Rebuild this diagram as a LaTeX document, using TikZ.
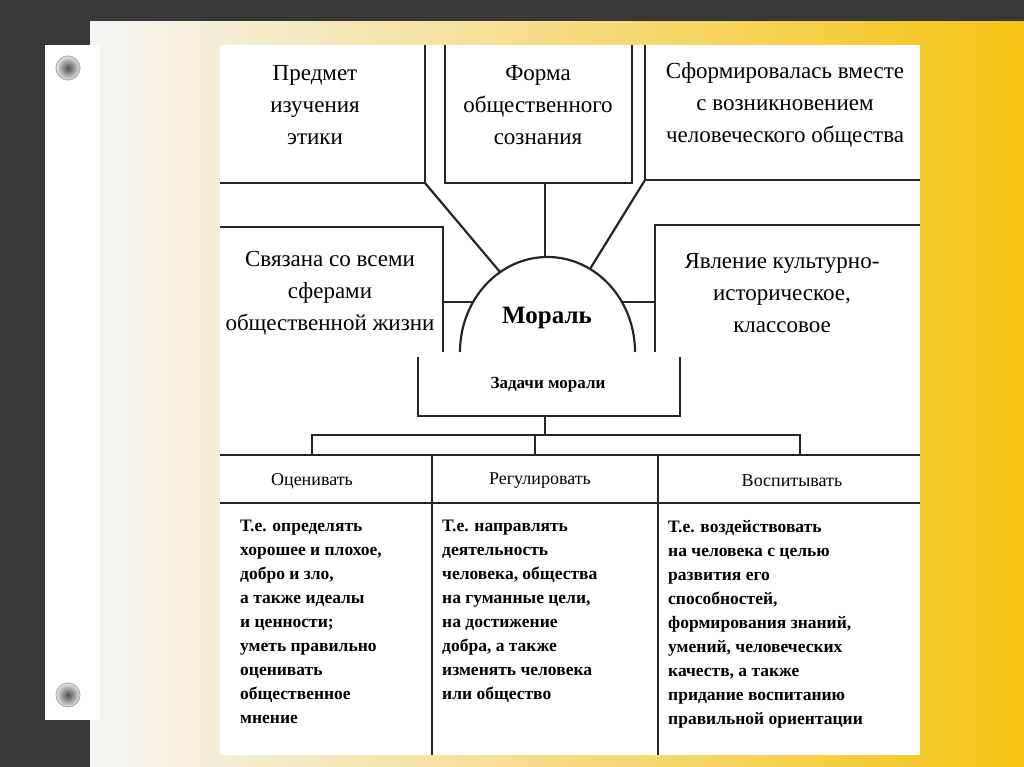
\documentclass[tikz,border=0pt]{standalone}
\usepackage{fontspec}
\setmainfont{Liberation Serif}
\usetikzlibrary{positioning}
\definecolor{gold}{RGB}{246,196,20}

\tikzstyle{line}=[line width=2.2pt, black!85]
\tikzstyle{topt}=[align=center, font=\fontsize{23}{32}\selectfont, inner sep=0pt]
\tikzstyle{head}=[align=center, font=\fontsize{17}{20}\selectfont\bfseries, inner sep=0pt]
\tikzstyle{body}=[align=left, anchor=north west, font=\fontsize{17.5}{24}\selectfont\bfseries, inner sep=0pt]
\tikzstyle{ring}=[circle, minimum size=24pt, inner sep=0pt, draw=gray!60, line width=1pt, inner color=black!70, outer color=gray!20]

\begin{document}
\begin{tikzpicture}[x=1pt, y=-1pt]
        \useasboundingbox (0,0) rectangle (1024,767);
        % slide background
        \fill[black!78] (0,0) rectangle (1024,767);
        \shade[left color=white!92!gray, right color=gold] (90,22) rectangle (1024,767);
        \fill[white] (45,45) rectangle (100,720);
        \draw (68,68) node[ring](r1){};
        \draw (68,695) node[ring](r2){};
        \fill[white] (220,45) rectangle (920,755);
        %
        \draw (315,105) node[topt](subj){Предмет\\изучения\\этики};
        \draw (538,105) node[topt](form){Форма\\общественного\\сознания};
        \draw (785,105) node[topt](orig){Сформировалась вместе\\с возникновением\\человеческого общества};
        \draw (330,293) node[topt](link){Связана со всеми\\сферами\\общественной жизни};
        \draw (782,293) node[topt](cult){Явление культурно-\\историческое,\\классовое};
        \draw (547,318) node[head, font=\fontsize{25}{28}\selectfont\bfseries](moral){Мораль};
        \draw (548,385) node[head](tasks){Задачи морали};
        \draw (312,481) node[head, font=\fontsize{18}{20}\selectfont](eval){Оценивать};
        \draw (540,481) node[head, font=\fontsize{18}{20}\selectfont](reg){Регулировать};
        \draw (792,481) node[head, font=\fontsize{18}{20}\selectfont](edu){Воспитывать};
        \draw (240,520) node[body](evalt){Т.е. определять\\хорошее и плохое,\\добро и зло,\\а также идеалы\\и ценности;\\уметь правильно\\оценивать\\общественное\\мнение};
        \draw (442,520) node[body](regt){Т.е. направлять\\деятельность\\человека, общества\\на гуманные цели,\\на достижение\\добра, а также\\изменять человека\\или общество};
        \draw (668,520) node[body](edut){Т.е. воздействовать\\на человека с целью\\развития его\\способностей,\\формирования знаний,\\умений, человеческих\\качеств, а также\\придание воспитанию\\правильной ориентации};
        %
        \coordinate (subj-c) at (425,183);
        \coordinate (form-c) at (545,183);
        \coordinate (orig-c) at (645,180);
        \coordinate (link-c) at (443,302);
        \coordinate (cult-c) at (655,302);
        \coordinate (dome-l) at (500,272);
        \coordinate (dome-t) at (545,257);
        \coordinate (dome-r) at (590,269);
        \coordinate (dome-wl) at (473,302);
        \coordinate (dome-wr) at (622,302);
        \coordinate (tasks-b) at (545,416);
        \coordinate (fork) at (545,435);
        %
        \draw[line] (220,183) -- (425,183) -- (425,45);
        \draw[line] (445,45) -- (445,183) -- (632,183) -- (632,45);
        \draw[line] (645,45) -- (645,180) -- (920,180);
        \draw[line] (220,227) -- (443,227) -- (443,352);
        \draw[line] (920,225) -- (655,225) -- (655,352);
        \draw[line] (460,352) arc[start angle=180, end angle=360, x radius=87.5, y radius=95];
        \draw[line] (418,357) -- (418,416) -- (680,416) -- (680,357);
        \path[line]
            (subj-c)    edge    (dome-l)
            (form-c)    edge    (dome-t)
            (orig-c)    edge    (dome-r)
            (link-c)    edge    (dome-wl)
            (cult-c)    edge    (dome-wr)
            (tasks-b)   edge    (fork)
        ;
        \draw[line] (312,455) -- (312,435) -- (800,435) -- (800,455);
        \draw[line] (535,435) -- (535,455);
        \draw[line] (220,455) -- (920,455);
        \draw[line] (220,503) -- (920,503);
        \draw[line] (432,455) -- (432,755);
        \draw[line] (658,455) -- (658,755);
      \end{tikzpicture}
\end{document}
